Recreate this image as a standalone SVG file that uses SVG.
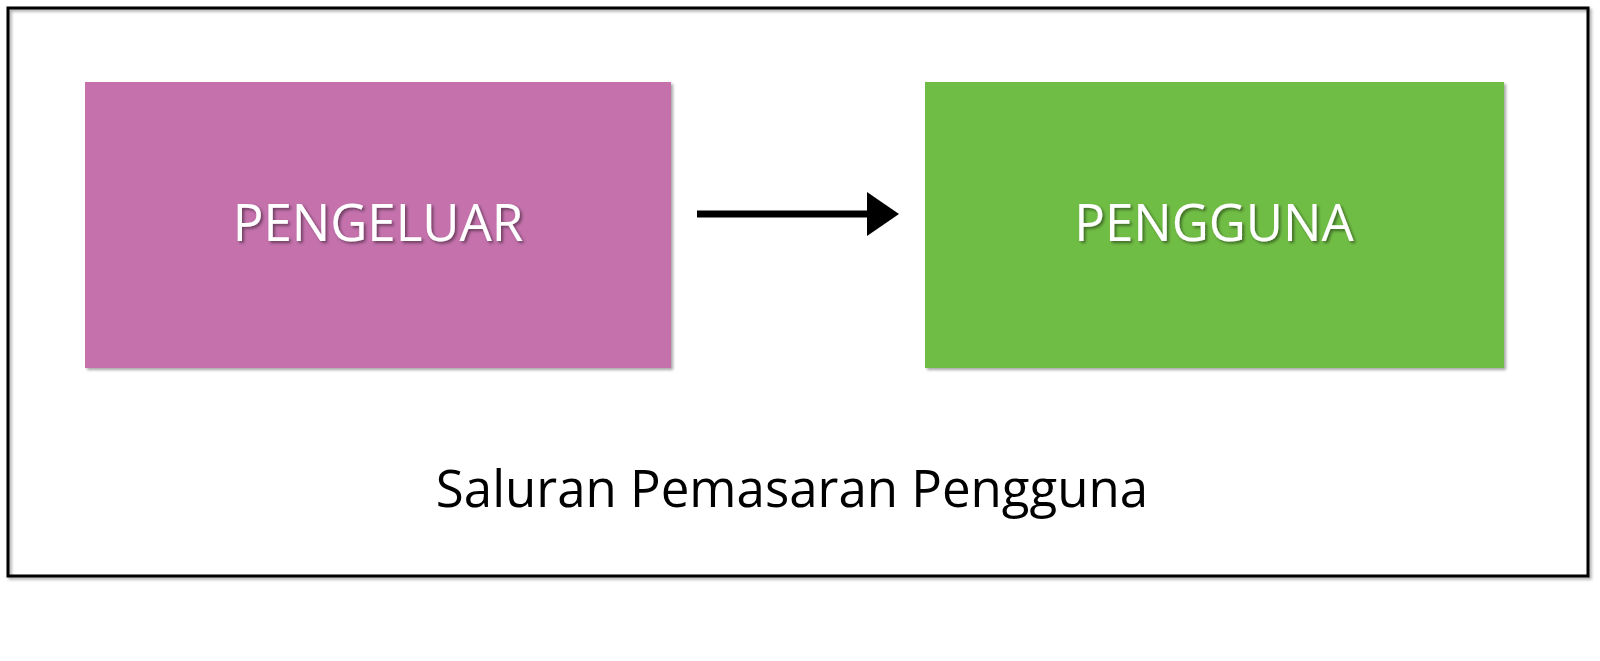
<svg xmlns="http://www.w3.org/2000/svg" width="1600" height="661" viewBox="0 0 1600 661">
<defs>
<style>
.box-label{font-family:"Open Sans","Noto Sans","Liberation Sans",sans-serif;font-size:51px;fill:#ffffff;text-anchor:middle}
.caption{font-family:"Open Sans","Noto Sans","Liberation Sans",sans-serif;font-size:51px;fill:#000000;text-anchor:middle}
</style>
<filter id="sh" x="-5%" y="-5%" width="110%" height="115%">
<feDropShadow dx="2" dy="2" stdDeviation="1.5" flood-color="#000" flood-opacity="0.35"/>
</filter>
<filter id="tsh" x="-5%" y="-20%" width="110%" height="140%">
<feDropShadow dx="2" dy="2" stdDeviation="1.5" flood-color="#000" flood-opacity="0.45"/>
</filter>
<marker id="ah" markerWidth="32" markerHeight="44" refX="1" refY="22" orient="auto" markerUnits="userSpaceOnUse">
<path d="M0,0 L32,22 L0,44 Z" fill="#000"/>
</marker>
</defs>
<rect width="1600" height="661" fill="#ffffff"/>
<g id="frame">
<rect x="8" y="8" width="1580" height="568" fill="none" stroke="#000" stroke-width="3" filter="url(#sh)"/>
</g>
<g id="node-pengeluar">
<rect x="85" y="82" width="586" height="286" fill="#C471AC" filter="url(#sh)"/>
<text class="box-label" x="378" y="241" filter="url(#tsh)">PENGELUAR</text>
</g>
<g id="node-pengguna">
<rect x="925" y="82" width="579" height="286" fill="#70BD45" filter="url(#sh)"/>
<text class="box-label" x="1214" y="241" filter="url(#tsh)">PENGGUNA</text>
</g>
<g id="connectors">
<line x1="697" y1="214" x2="868" y2="214" stroke="#000" stroke-width="7" marker-end="url(#ah)"/>
</g>
<g id="caption">
<text class="caption" x="792" y="507">Saluran Pemasaran Pengguna</text>
</g>
</svg>
